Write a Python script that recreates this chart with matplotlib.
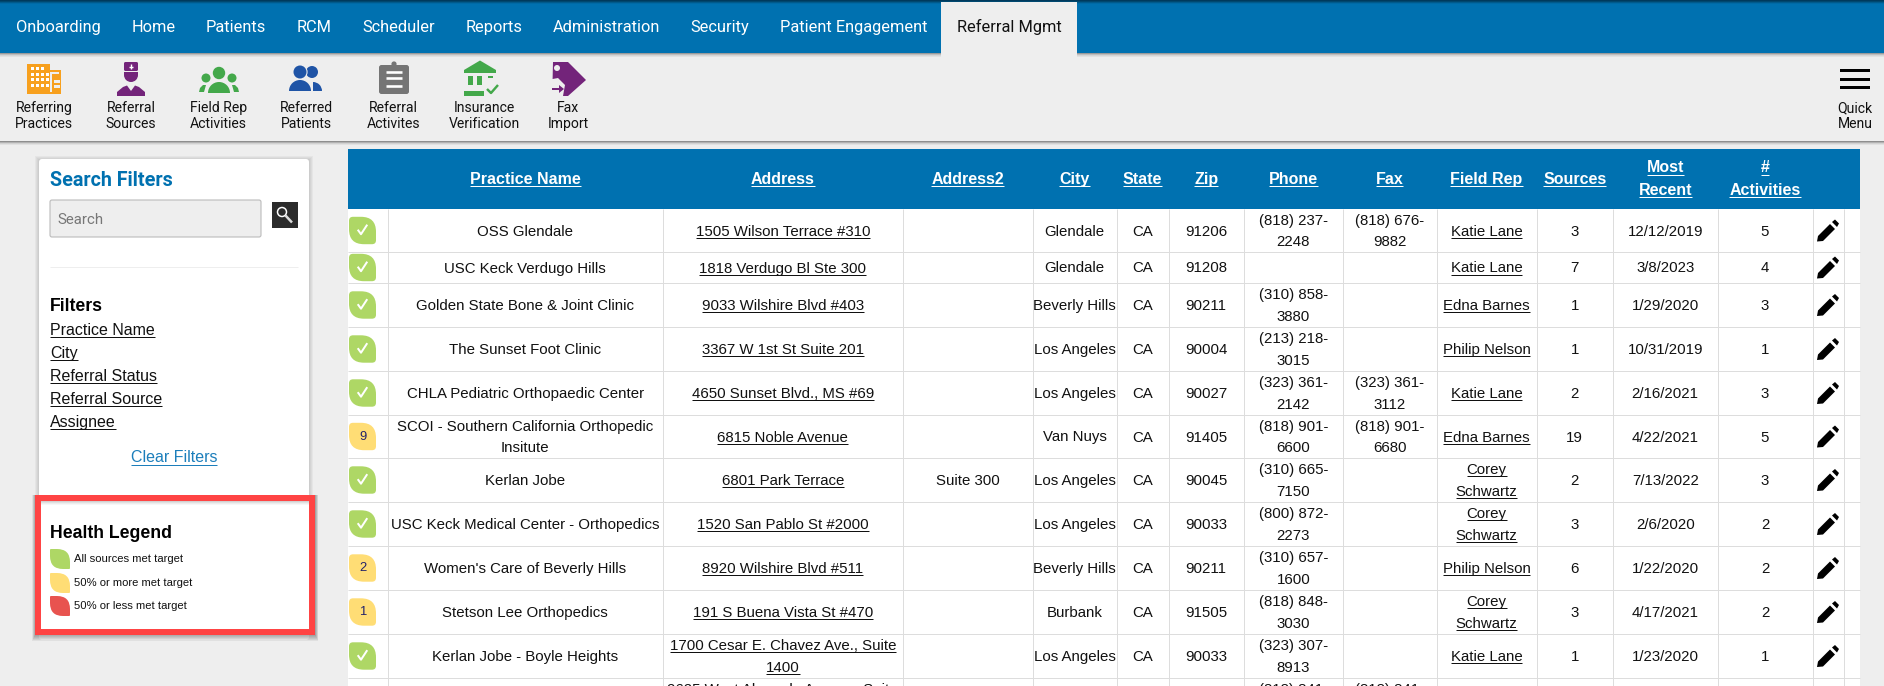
import matplotlib
matplotlib.use("Agg")
import matplotlib.pyplot as plt
import matplotlib.patches as patches
from matplotlib.path import Path

plt.rcParams['font.family'] = ['Liberation Sans', 'DejaVu Sans']

BLUE = '#0071b0'
BG = '#eeeeee'
GRID = '#dddddd'
INK = '#111111'
ORANGE = '#f7a01e'
PURPLE = '#73247a'
GREEN = '#43a84a'
NAVY = '#1f54a6'
GRAY = '#757575'
LEAF_GREEN = '#aed765'
LEAF_YELLOW = '#ffdd75'
LEAF_RED = '#e8534f'

nav_items = ['Onboarding', 'Home', 'Patients', 'RCM', 'Scheduler', 'Reports', 'Administration',
             'Security', 'Patient Engagement', 'Referral Mgmt']
tool_labels = ['Referring\nPractices', 'Referral\nSources', 'Field Rep\nActivities', 'Referred\nPatients',
               'Referral\nActivites', 'Insurance\nVerification', 'Fax\nImport']
filter_links = ['Practice Name', 'City', 'Referral Status', 'Referral Source', 'Assignee']
legend_labels = ['All sources met target', '50% or more met target', '50% or less met target']

headers = ['Practice Name', 'Address', 'Address2', 'City', 'State', 'Zip', 'Phone', 'Fax', 'Field Rep',
           'Sources', 'Most\nRecent', '#\nActivities']

# 0 means all met (check mark), otherwise the number shown on a yellow leaf
health = [0, 0, 0, 0, 0, 9, 0, 0, 2, 1, 0]
practices = ['OSS Glendale', 'USC Keck Verdugo Hills', 'Golden State Bone & Joint Clinic', 'The Sunset Foot Clinic',
             'CHLA Pediatric Orthopaedic Center', 'SCOI - Southern California Orthopedic\nInsitute', 'Kerlan Jobe',
             'USC Keck Medical Center - Orthopedics', "Women's Care of Beverly Hills", 'Stetson Lee Orthopedics',
             'Kerlan Jobe - Boyle Heights', '']
addresses = ['1505 Wilson Terrace #310', '1818 Verdugo Bl Ste 300', '9033 Wilshire Blvd #403',
             '3367 W 1st St Suite 201', '4650 Sunset Blvd., MS #69', '6815 Noble Avenue', '6801 Park Terrace',
             '1520 San Pablo St #2000', '8920 Wilshire Blvd #511', '191 S Buena Vista St #470',
             '1700 Cesar E. Chavez Ave., Suite\n1400', '2625 West Alameda Avenue, Suite\n ']
addresses2 = ['', '', '', '', '', '', 'Suite 300', '', '', '', '', '']
cities = ['Glendale', 'Glendale', 'Beverly Hills', 'Los Angeles', 'Los Angeles', 'Van Nuys', 'Los Angeles',
          'Los Angeles', 'Beverly Hills', 'Burbank', 'Los Angeles', '']
states = ['CA'] * 11 + ['']
zips = ['91206', '91208', '90211', '90004', '90027', '91405', '90045', '90033', '90211', '91505', '90033', '']
phones = ['(818) 237-\n2248', '', '(310) 858-\n3880', '(213) 218-\n3015', '(323) 361-\n2142', '(818) 901-\n6600',
          '(310) 665-\n7150', '(800) 872-\n2273', '(310) 657-\n1600', '(818) 848-\n3030', '(323) 307-\n8913',
          '(818) 841-\n ']
faxes = ['(818) 676-\n9882', '', '', '', '(323) 361-\n3112', '(818) 901-\n6680', '', '', '', '', '',
         '(818) 841-\n ']
field_reps = ['Katie Lane', 'Katie Lane', 'Edna Barnes', 'Philip Nelson', 'Katie Lane', 'Edna Barnes',
              'Corey\nSchwartz', 'Corey\nSchwartz', 'Philip Nelson', 'Corey\nSchwartz', 'Katie Lane', '']
sources = ['3', '7', '1', '1', '2', '19', '2', '3', '6', '3', '1', '']
recent = ['12/12/2019', '3/8/2023', '1/29/2020', '10/31/2019', '2/16/2021', '4/22/2021', '7/13/2022', '2/6/2020',
          '1/22/2020', '4/17/2021', '1/23/2020', '']
activities = ['5', '4', '3', '1', '3', '5', '3', '2', '2', '2', '1', '']

# layout, in image pixels
col_edges = [348, 387.5, 663, 902.5, 1032.5, 1116.5, 1168.5, 1244, 1342.5, 1436.5, 1536.5, 1613, 1717.5, 1812.5,
             1843.5, 1860]
row_edges = [209, 252, 283, 327, 371, 415, 458, 502, 546, 590, 634, 678, 722]
nav_x = [58, 153.5, 236, 314, 399, 494.5, 606.5, 720, 853.5, 1009.5]
tool_x = [44, 131, 218.5, 306, 393.5, 484.5, 568.5]

fig = plt.figure(figsize=(1884 / 100, 686 / 100), dpi=100, facecolor=BG)
ax = fig.add_axes([0, 0, 1, 1])
ax.set_xlim(0, 1884)
ax.set_ylim(686, 0)
ax.axis('off')
renderer = fig.canvas.get_renderer()


def px(size):
    return size * 0.72


def rect(x0, y0, x1, y1, color, alpha=None, zorder=1):
    ax.add_patch(patches.Rectangle((x0, y0), x1 - x0, y1 - y0, facecolor=color, edgecolor='none', alpha=alpha,
                                   zorder=zorder))


def rrect(x0, y0, x1, y1, r, color, edge='none', zorder=1):
    ax.add_patch(patches.FancyBboxPatch((x0, y0), x1 - x0, y1 - y0, boxstyle='round,pad=0,rounding_size=%s' % r,
                                        facecolor=color, edgecolor=edge, linewidth=0.8, zorder=zorder))


def poly(points, color, zorder=1):
    ax.add_patch(patches.Polygon(points, closed=True, facecolor=color, edgecolor='none', zorder=zorder))


def circle(x, y, r, color, zorder=1):
    ax.add_patch(patches.Circle((x, y), r, facecolor=color, edgecolor='none', zorder=zorder))


def wedge(x, y, r, t0, t1, color, zorder=1):
    ax.add_patch(patches.Wedge((x, y), r, t0, t1, facecolor=color, edgecolor='none', zorder=zorder))


def line(xs, ys, color, width, zorder=2, cap='butt'):
    ax.plot(xs, ys, color=color, linewidth=px(width), solid_capstyle=cap, zorder=zorder)


def label(x, base, s, size, color=INK, ha='center', family='Liberation Sans', weight='normal', link=False):
    t = ax.text(x, base, s, fontsize=px(size), color=color, ha=ha, va='baseline', family=family, weight=weight,
                zorder=4)
    if link and s.strip():
        bb = t.get_window_extent(renderer)
        line([bb.x0, bb.x1], [base + 2, base + 2], color, 1, zorder=4)
    return t


def leaf(x0, y0, x1, y1, small, big, color):
    verts = [(x0 + small, y0), (x1 - big, y0), (x1, y0), (x1, y0 + big), (x1, y1 - small), (x1, y1),
             (x1 - small, y1), (x0 + big, y1), (x0, y1), (x0, y1 - big), (x0, y0 + small), (x0, y0),
             (x0 + small, y0)]
    codes = [Path.MOVETO, Path.LINETO, Path.CURVE3, Path.CURVE3, Path.LINETO, Path.CURVE3, Path.CURVE3, Path.LINETO,
             Path.CURVE3, Path.CURVE3, Path.LINETO, Path.CURVE3, Path.CURVE3]
    ax.add_patch(patches.PathPatch(Path(verts, codes), facecolor=color, edgecolor='none', zorder=3))


def shadow(x0, y0, x1, y1, spread=4, strength=0.035, dy=1):
    for i in range(spread, 0, -1):
        rect(x0 - i, y0 - i + dy, x1 + i, y1 + i + dy, 'black', alpha=strength, zorder=1)


def draw_pencil(cy):
    poly([(1817, cy + 11), (1818, cy + 5.5), (1830, cy - 6.5), (1835, cy - 1.5), (1823, cy + 10.5)], 'black')
    poly([(1832, cy - 8.5), (1835, cy - 11), (1839, cy - 7), (1837, cy - 3.5)], 'black')


def draw_building():
    rect(27, 64, 50, 94, ORANGE)
    rect(50, 70, 61, 94, ORANGE)
    rect(50, 72, 59, 92, BG)
    rect(52, 74, 61, 94, ORANGE)
    for wy in (67, 72.5, 78, 83.5):
        for wx in (31, 36, 41, 46):
            if wx == 46 and wy == 67:
                continue
            rect(wx, wy, wx + 3, wy + 3, 'white')
    for wy in (80, 85):
        for wx in (54, 57):
            rect(wx, wy, wx + 2.5, wy + 2.5, BG)


def draw_nurse():
    rrect(124, 62, 138, 71, 1.5, PURPLE)
    line([131, 131], [64, 69], 'white', 1.4)
    line([128.7, 133.3], [66.5, 66.5], 'white', 1.4)
    rect(124, 72, 138, 75, PURPLE)
    wedge(131, 75, 7, 0, 180, PURPLE)
    poly([(117, 96), (117, 92), (123, 87), (127, 85.5), (131, 91), (135, 85.5), (139, 87), (145, 92), (145, 96)],
         PURPLE)


def draw_group():
    circle(219, 73, 6.2, GREEN)
    circle(206, 78, 4.5, GREEN)
    circle(232, 78, 4.5, GREEN)
    wedge(219, 93, 11, 180, 360, GREEN)
    poly([(199, 92), (200, 88), (203, 85), (206, 85), (204, 92)], GREEN)
    poly([(239, 92), (238, 88), (235, 85), (232, 85), (234, 92)], GREEN)


def draw_users():
    circle(312, 72, 6, NAVY)
    wedge(313, 91, 9, 270, 360, NAVY)
    circle(300, 72, 7.6, BG)
    circle(300, 72, 6.5, NAVY)
    wedge(300, 91, 11, 180, 360, NAVY)


def draw_clipboard():
    circle(394, 64, 2.6, GRAY)
    rrect(379, 65, 409, 94, 2.5, GRAY)
    for ly in (71.5, 78, 85.5):
        line([386, 402], [ly, ly], 'white', 2.6)


def draw_bank():
    poly([(480, 60.5), (496, 70), (496, 73), (464, 73), (464, 70)], GREEN)
    rect(468, 76, 473, 85, GREEN)
    rect(477, 76, 482, 85, GREEN)
    rect(488, 76, 493, 78, GREEN)
    rect(464, 91, 484, 96, GREEN)
    line([487, 491, 498], [89, 93, 85], GREEN, 2.4)


def draw_tag():
    poly([(553, 62), (568, 62), (586, 80), (568, 96), (563, 96), (565, 85), (558, 78), (552.6, 79)], PURPLE)
    circle(557, 68, 3, BG)
    line([552, 561], [89, 89], PURPLE, 2)
    poly([(559, 85), (564, 89), (559, 93)], PURPLE)


# page chrome
rect(0, 0, 1884, 53, BLUE)
for i, shade in enumerate(['#003a5c', '#00486f', '#005a8c', '#006aa5']):
    rect(0, i, 1884, i + 1, shade)
rect(941, 2, 1077, 53, BG)
for y0, a in zip((53, 54, 55, 56), (0.35, 0.2, 0.1, 0.05)):
    rect(0, y0, 941, y0 + 1, 'black', alpha=a)
    rect(1077, y0, 1884, y0 + 1, 'black', alpha=a)
for y0, a in zip((141, 142, 143, 144), (0.4, 0.25, 0.12, 0.05)):
    rect(0, y0, 1884, y0 + 1, 'black', alpha=a)

for i, name in enumerate(nav_items):
    label(nav_x[i], 32, name, 16.4, color=INK if name == 'Referral Mgmt' else 'white', family='Roboto')

for draw in (draw_building, draw_nurse, draw_group, draw_users, draw_clipboard, draw_bank, draw_tag):
    draw()
for i, text in enumerate(tool_labels):
    for j, part in enumerate(text.split('\n')):
        label(tool_x[i], 112 + 16 * j, part, 14, family='Roboto')

for y0 in (69, 77.5, 86):
    rect(1840, y0, 1870, y0 + 3, 'black')
label(1855, 112, 'Quick', 14, family='Roboto')
label(1855, 128, 'Menu', 14, family='Roboto')

# search card
shadow(39, 159, 309, 495)
rrect(39, 159, 309, 640, 3, 'white', zorder=1)
label(50, 186, 'Search Filters', 19.8, color=BLUE, ha='left', family='Roboto', weight='bold')
rrect(50, 200, 261, 237, 2, BG, edge='#bbbbbb')
label(57, 224, 'Search', 15, color='#777777', ha='left', family='Roboto')
rect(272, 202, 298, 228, '#2b2b2b')
ax.add_patch(patches.Circle((282, 212), 4.5, facecolor='none', edgecolor='white', linewidth=px(1.5), zorder=2))
line([285.5, 292], [215.5, 222.5], '#dddddd', 2.5)
line([50, 298], [267, 267], BG, 1)

label(50, 311, 'Filters', 17.6, color='black', ha='left', weight='bold')
for i, name in enumerate(filter_links):
    label(50, 335 + 23 * i, name, 16, ha='left', link=True)
label(174, 462.5, 'Clear Filters', 16, color='#1c7ebb', link=True)

# health legend, with its red highlight
for i in range(6, 0, -1):
    rect(35 - i * 0.5, 495, 315 + i * 0.5, 635 + i, 'black', alpha=0.06)
rect(35, 495, 315, 635, '#ff4444', zorder=1)
rect(41, 501, 309, 629, 'white', zorder=1)
for i, a in enumerate((0.18, 0.12, 0.07, 0.03)):
    rect(41, 501 + i, 309, 502 + i, 'black', alpha=a)
label(50, 538, 'Health Legend', 17.6, color='black', ha='left', weight='bold')
for i, (text, color) in enumerate(zip(legend_labels, [LEAF_GREEN, LEAF_YELLOW, LEAF_RED])):
    top = [549, 573, 596][i]
    leaf(50, top, 70, top + 20, 1, 13, color)
    label(74, top + 13, text, 11.2, ha='left')

# table
rect(348, 209, 1860, 686, 'white')
rect(348, 149, 1860, 209, BLUE, zorder=3)
centers = [(col_edges[i] + col_edges[i + 1]) / 2 for i in range(len(col_edges) - 1)]
for i, name in enumerate(headers):
    parts = name.split('\n')
    bases = [184] if len(parts) == 1 else [172.5, 195]
    for part, base in zip(parts, bases):
        label(centers[i + 1], base, part, 16, color='white', weight='bold', link=True)

for y in row_edges[1:-1]:
    line([348, 1860], [y, y], GRID, 1)
for x in col_edges[1:-1]:
    line([x, x], [209, 686], GRID, 1)

# (values, is link) per data column, left to right
columns = [(practices, False), (addresses, True), (addresses2, False), (cities, False), (states, False), (zips, False),
           (phones, False), (faxes, False), (field_reps, True), (sources, False), (recent, False),
           (activities, False)]
for r in range(len(practices)):
    mid = (row_edges[r] + row_edges[r + 1]) / 2
    for c, (values, is_link) in enumerate(columns):
        parts = values[r].split('\n')
        bases = [mid + 5] if len(parts) == 1 else [mid - 6, mid + 16]
        for part, base in zip(parts, bases):
            if part.strip():
                label(centers[c + 1], base, part, 15, link=is_link)
    if r < len(health):
        if health[r] == 0:
            leaf(349, mid - 13.7, 376, mid + 13.7, 4, 15, LEAF_GREEN)
            ax.plot([358.3, 361, 366.7], [mid, mid + 3.7, mid - 5], color='white', linewidth=px(2), zorder=4)
        else:
            leaf(349, mid - 13.7, 376, mid + 13.7, 4, 15, LEAF_YELLOW)
            label(362.5, mid + 3, str(health[r]), 13, color='#22226a')
        draw_pencil(mid)

fig.savefig('out.png', dpi=100, facecolor=BG)
